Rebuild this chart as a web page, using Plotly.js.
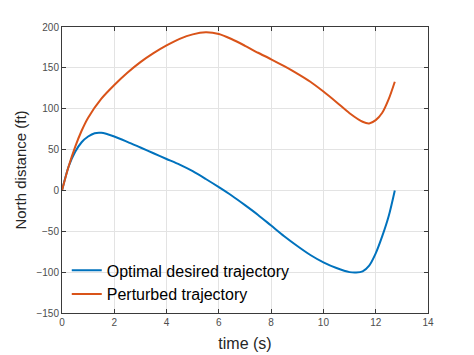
<!DOCTYPE html>
<html><head><meta charset="utf-8">
<script src="https://cdn.plot.ly/plotly-3.0.1.min.js"></script>
<style>html,body{margin:0;padding:0;background:#fff}</style>
</head><body><div id="chart" style="width:474px;height:355px"></div>
<script>
const timeBlue = [0, 0.25, 0.5, 0.75, 1, 1.25, 1.5, 2, 2.5, 3, 3.5, 4, 4.5, 5, 5.5, 6, 6.5, 7, 7.5, 8, 8.5, 9, 9.5, 10, 10.5, 11, 11.25, 11.5, 11.75, 12, 12.25, 12.5, 12.73];
const optimal = [0, 29, 47, 59, 66, 70, 70.5, 66, 59.5, 52.5, 45.5, 38.5, 31.5, 23.5, 14, 4, -6.5, -18, -30, -43, -56, -68, -79, -88, -95, -100, -100.5, -99, -92, -77, -56, -31, 0];
const timeOrange = [0, 0.25, 0.5, 0.75, 1, 1.5, 2, 2.5, 3, 3.5, 4, 4.5, 5, 5.5, 6, 6.5, 7, 7.5, 8, 8.5, 9, 9.5, 10, 10.5, 11, 11.5, 11.75, 12, 12.25, 12.5, 12.73];
const perturbed = [0, 29, 53, 73, 89, 112, 129, 144, 157, 168, 177.5, 185.5, 191, 193.5, 191.5, 185, 177, 168.5, 160.5, 152, 143, 133, 121, 108, 94.5, 84, 82, 86, 95, 112, 133];

const fontFam = 'Liberation Sans, Arial, sans-serif';
const tickFont = {family: fontFam, size: 10, color: '#4d4d4d'};
const axisCommon = {
  showgrid: true, gridcolor: '#e3e3e3', gridwidth: 1,
  showline: true, linecolor: '#3a3a3a', linewidth: 1, mirror: 'ticks',
  ticks: 'inside', ticklen: 4, tickcolor: '#3a3a3a',
  zeroline: false, tickfont: tickFont
};
const data = [
  {x: timeBlue, y: optimal, name: 'Optimal desired trajectory', mode: 'lines',
   line: {color: '#0072BD', width: 2, shape: 'spline', smoothing: 0.8}},
  {x: timeOrange, y: perturbed, name: 'Perturbed trajectory', mode: 'lines',
   line: {color: '#D95319', width: 2, shape: 'spline', smoothing: 0.8}}
];
const layout = {
  width: 474, height: 355,
  margin: {l: 62, r: 46, t: 27, b: 42},
  paper_bgcolor: '#fff', plot_bgcolor: '#fff',
  showlegend: true,
  legend: {x: 0.013, y: 0.107, xanchor: 'left', yanchor: 'middle', bgcolor: 'rgba(0,0,0,0)',
    font: {family: fontFam, size: 16, color: '#000'}, tracegroupgap: 0, itemwidth: 30},
  xaxis: Object.assign({}, axisCommon, {range: [0, 14], dtick: 2, tick0: 0,
    title: {text: 'time (s)', standoff: 10, font: {family: fontFam, size: 16, color: '#262626'}}}),
  yaxis: Object.assign({}, axisCommon, {range: [-150, 200], dtick: 50, tick0: 0,
    title: {text: 'North distance (ft)', standoff: 6, font: {family: fontFam, size: 15, color: '#262626'}}})
};
Plotly.newPlot('chart', data, layout, {displayModeBar: false, staticPlot: true});
</script></body></html>
